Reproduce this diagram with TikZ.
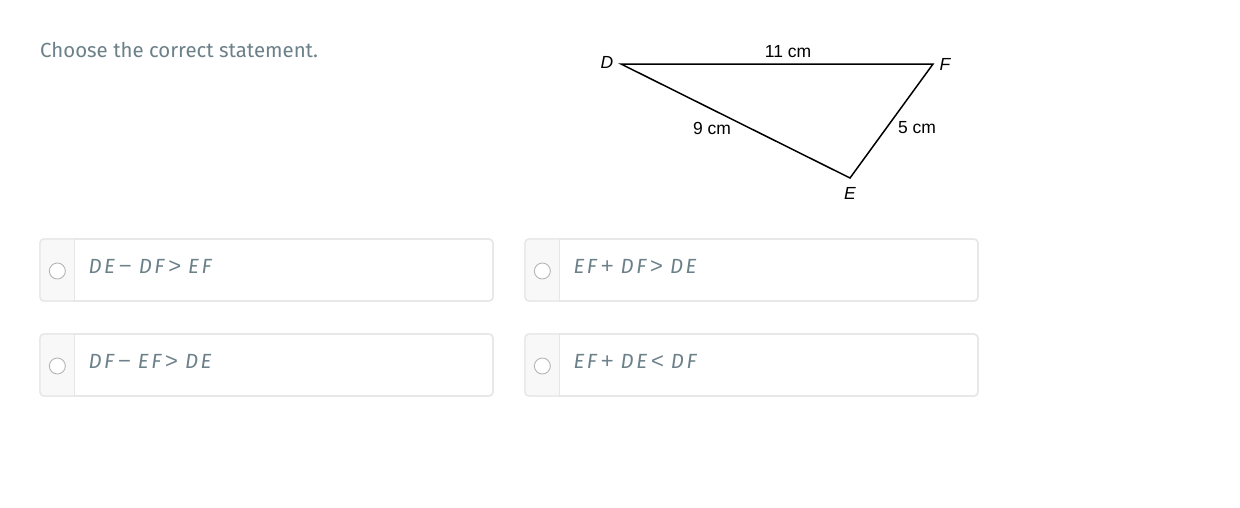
\documentclass[tikz,border=0pt]{standalone}
\usepackage{fontspec}
\setmainfont{Fira Sans}
\newfontfamily\figfont{Liberation Sans}
\usetikzlibrary{positioning}
\definecolor{qtext}{HTML}{6B8088}
\definecolor{boxline}{HTML}{E6E6E6}
\definecolor{stripfill}{HTML}{F8F8F8}
\definecolor{radioline}{HTML}{B5B5B5}
\newcommand\opsign[1]{\kern4pt{\upshape\figfont\fontsize{22}{24}\selectfont #1}\kern7pt}
\newcommand\pair[2]{#1\kern2.5pt #2}

\begin{document}
\begin{tikzpicture}[x=1pt,y=-1pt]
        \tikzset{option/.style={draw=boxline,line width=1.3pt,rounded corners=4pt,minimum width=453pt,minimum height=62pt,inner sep=0pt}}
        \tikzset{answer/.style={anchor=base west,inner sep=0pt,text=qtext,font=\fontsize{20.5}{24}\selectfont\itshape}}
        \tikzset{radio/.style={circle,draw=radioline,fill=white,line width=0.9pt,minimum size=16pt,inner sep=0pt}}
        \tikzset{side/.style={inner sep=1pt,font=\figfont\fontsize{17.5}{19}\selectfont}}
        \tikzset{vertex/.style={inner sep=1pt,font=\figfont\itshape\fontsize{17.5}{19}\selectfont}}
        \useasboundingbox[fill=white] (0,0) rectangle (1240,507);
        % question
        \node[anchor=base west,inner sep=0pt,text=qtext,font=\fontsize{20.4}{24}\selectfont] (question) at (40,57) {Choose the correct statement.};
        % triangle
        \coordinate (D) at (621,64);
        \coordinate (F) at (933,64);
        \coordinate (E) at (850,178);
        \draw[line width=1.5pt,line join=miter] (D) -- (F) -- (E) -- cycle;
        \node[vertex] (labD) at (607,62) {D};
        \node[vertex] (labF) at (945,64) {F};
        \node[vertex] (labE) at (850,193) {E};
        \node[side] (lenDF) at (788,52) {11 cm};
        \node[side] (lenDE) at (712,128) {9 cm};
        \node[side] (lenEF) at (917,128) {5 cm};
        % options
        \foreach \name/\x/\y/\txt in {optA/266.5/270/{\pair DE\opsign{−}\pair DF\opsign{>}\pair EF},
                                      optB/751.5/270/{\pair EF\opsign{+}\pair DF\opsign{>}\pair DE},
                                      optC/266.5/365/{\pair DF\opsign{−}\pair EF\opsign{>}\pair DE},
                                      optD/751.5/365/{\pair EF\opsign{+}\pair DE\opsign{<}\pair DF}}{
            \node[option] (\name) at (\x,\y) {};
            \begin{scope}
                \clip[rounded corners=4pt] (\name.north west) rectangle (\name.south east);
                \fill[stripfill] (\name.north west) rectangle ([xshift=35pt]\name.south west);
            \end{scope}
            \draw[boxline,line width=1.3pt] ([xshift=35pt]\name.north west) -- ([xshift=35pt]\name.south west);
            \node[option] at (\name) {};
            \node[radio] (\name-radio) at ([xshift=18pt,yshift=-1pt]\name.west) {};
            \node[answer] (\name-text) at ([xshift=49pt,yshift=-3.5pt]\name.west) {\txt};
        }
\end{tikzpicture}
\end{document}
